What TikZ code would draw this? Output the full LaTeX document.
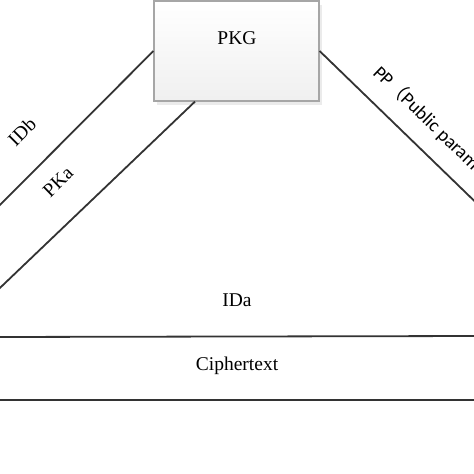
\documentclass[tikz,border=0pt]{standalone}
\usepackage{fontspec}
\setmainfont{Liberation Serif}
\newfontfamily\calibri{Carlito}
\newfontfamily\cjk{Noto Sans CJK SC}
\usepackage{tikz}
\usetikzlibrary{positioning}
\usetikzlibrary{calc}
\usetikzlibrary{shadows}

\begin{document}
\begin{tikzpicture}[x=1pt, y=-1pt]
		% ------- style -------
		\tikzset{%
			pkgbox/.style={%
				draw=gray!70, line width=1.2pt,
				top color=white, bottom color=gray!12,
				minimum width=165pt, minimum height=100pt,
				drop shadow={shadow xshift=3pt, shadow yshift=-4pt, fill=gray!30},
			},
			link/.style={draw=black!80, line width=1.8pt},
			lbl/.style={font=\fontsize{19.5}{23}\selectfont, inner sep=0pt},
		}
		
		\useasboundingbox (0,0) rectangle (474,474);
		\clip (0,0) rectangle (474,474);
		\fill[white] (0,0) rectangle (474,474);
		
		% ------- PKG -------
		\node[pkgbox] (pkg) at (236.5,51) {};
		\node[lbl, anchor=base] (pkg-name) at (237,44) {PKG};
		
		% ------- links -------
		\coordinate (idb-end) at (-20,225);
		\coordinate (pka-end) at (-20,307);
		\coordinate (pp-end)  at (494,220);
		
		\draw[link] (pkg.west) -- (idb-end);
		\draw[link] ($(pkg.south west)!0.25!(pkg.south east)$) -- (pka-end);
		\draw[link] (pkg.east) -- (pp-end);
		
		\node[lbl, rotate=45] (idb) at (22,132) {IDb};
		\node[lbl, rotate=44] (pka) at (58,182) {PKa};
		\node[lbl, font=\calibri\fontsize{19}{23}\selectfont, rotate=-44, anchor=base west] (pp) at (372,74)
			{PP{\cjk （}Public parameters{\cjk ）}};
		
		% ------- bottom -------
		\coordinate (ida-w) at (-5,337);
		\coordinate (ida-e) at (479,336);
		\coordinate (ct-w)  at (-5,400);
		\coordinate (ct-e)  at (479,400);
		
		\draw[link] (ida-w) -- (ida-e);
		\draw[link] (ct-w) -- (ct-e);
		
		\node[lbl, anchor=base] (ida) at (237,306) {IDa};
		\node[lbl, anchor=base] (ct)  at (237,370) {Ciphertext};
	\end{tikzpicture}
\end{document}
